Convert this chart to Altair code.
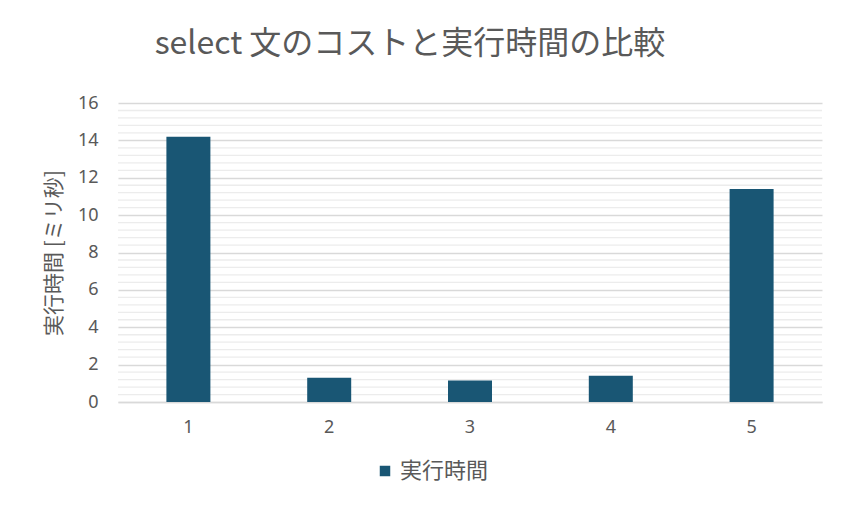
import altair as alt
import pandas as pd
import numpy as np

categories = ["1", "2", "3", "4", "5"]
exec_time = [14.2, 1.3, 1.15, 1.4, 11.4]
series_name = "実行時間"
major_ticks = [0, 2, 4, 6, 8, 10, 12, 14, 16]
minor_ticks = [round(v, 1) for v in np.arange(0, 16.01, 0.4) if abs(v / 2 - round(v / 2)) > 1e-6]

FONT = "Noto Sans CJK JP"
NUMFONT = "Noto Sans"
TXT = "#595959"
BAR = "#195674"

df = pd.DataFrame({"cat": categories, "val": exec_time, "series": [series_name] * len(categories)})
minor_df = pd.DataFrame({"v": minor_ticks})

yscale = alt.Scale(domain=[0, 16], nice=False)
yaxis = alt.Axis(title="実行時間 [ミリ秒]", values=major_ticks, ticks=False, domain=False,
                 grid=True, gridColor="#d9d9d9", gridWidth=1.5,
                 labelPadding=20, labelFontSize=18, labelColor=TXT, labelFont=NUMFONT,
                 labelFontWeight="normal",
                 titleFontSize=21, titleColor=TXT, titleFont=FONT, titleFontWeight="normal",
                 titlePadding=13)

minor = alt.Chart(minor_df).mark_rule(color="#ececec", strokeWidth=1.3).encode(
    y=alt.Y("v:Q", scale=yscale, axis=yaxis)
)

bars = alt.Chart(df).mark_bar(size=44).encode(
    x=alt.X("cat:N", sort=categories,
            scale=alt.Scale(paddingInner=0, paddingOuter=0),
            axis=alt.Axis(title=None, labelAngle=0, ticks=False, labelPadding=16,
                          domainColor="#d9d9d9", domainWidth=1.5,
                          labelFontSize=18, labelColor=TXT, labelFont=NUMFONT)),
    y=alt.Y("val:Q", scale=yscale, axis=yaxis),
    color=alt.Color("series:N", scale=alt.Scale(range=[BAR]),
                    legend=alt.Legend(title=None, orient="none", legendX=256, legendY=357,
                                      symbolType="square", symbolSize=110, symbolStrokeWidth=0,
                                      labelFontSize=22, labelColor=TXT, labelFont=FONT,
                                      labelOffset=4)),
)

chart = alt.layer(minor, bars).properties(
    width=704,
    height=299,
    autosize=alt.AutoSizeParams(type="none"),
    padding={"left": 110, "top": 95, "right": 22, "bottom": 102},
    background="white",
    title=alt.TitleParams("select 文のコストと実行時間の比較", fontSize=32, font=FONT,
                          color=TXT, fontWeight="normal", anchor="middle", dx=-60, offset=33),
).configure_view(stroke=None)

chart.save("out.html", embed_options={"renderer": "svg", "actions": False})
